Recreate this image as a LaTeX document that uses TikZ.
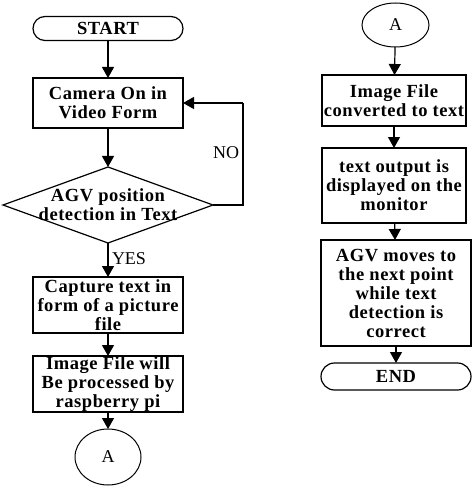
\documentclass[tikz,border=0pt]{standalone}
\usepackage{fontspec}
\setmainfont{Liberation Serif}
\newfontfamily\boxfont[LetterSpace=3]{Liberation Serif}
\usetikzlibrary{shapes.geometric,arrows.meta}
\begin{document}
\begin{tikzpicture}[x=1pt,y=-1pt,
  every node/.style={inner sep=0pt,outer sep=0pt},
  lbl/.style={font=\boxfont\fontsize{18.5}{19}\selectfont\bfseries,align=center},
  plain/.style={font=\fontsize{18}{19}\selectfont},
  procbox/.style={draw,line width=1.2pt,rectangle,lbl,minimum width=150pt},
  termbox/.style={draw,line width=1.2pt,rectangle,rounded corners=12pt,lbl,minimum width=150pt,minimum height=24pt},
  conn/.style={ellipse,draw,line width=1pt,plain,minimum width=66pt},
  arr/.style={line width=1.2pt,-{Triangle[length=11pt,width=12pt]}},
  ln/.style={line width=1.2pt}]
\useasboundingbox (0,0) rectangle (474,487);
% left column
\node[termbox] (start) at (108,28.5) {START};
\node[procbox,minimum height=50pt] (cam) at (108,103) {Camera On in\\Video Form};
\node[diamond,draw,line width=1.2pt,minimum width=210pt,minimum height=76pt] (dec) at (108,205) {};
\node[lbl] (dect) at (108,205) {AGV position\\detection in Text};
\node[procbox,minimum height=56pt] (cap) at (108,305) {Capture text in\\form of a picture\\file};
\node[procbox,minimum height=56pt] (img) at (108,384) {Image File will\\Be processed by\\raspberry pi};
\node[conn,minimum height=56pt] (a1) at (108,457) {A};
\coordinate (lc) at (243,205);
\coordinate (lt) at (243,103);
\node[plain,anchor=center] (no) at (226,153) {NO};
\node[plain,anchor=west] (yes) at (112,259) {YES};
\draw[arr] (start) -- (cam);
\draw[arr] (cam) -- (dec);
\draw[ln] (dec.east) -- (lc) -- (lt);
\draw[arr] (lt) -- (cam.east);
\draw[arr] (dec) -- (cap);
\draw[arr] (cap) -- (img);
\draw[arr] (img) -- (a1);
% right column
\node[conn,minimum height=44pt,minimum width=67pt] (a2) at (395.5,25) {A};
\node[procbox,minimum width=144pt,minimum height=51pt] (conv) at (394,100.5) {Image File\\converted to text};
\node[procbox,minimum width=144pt,minimum height=75pt] (out) at (394,185.5) {text output is\\displayed on the\\monitor};
\node[procbox,minimum height=106pt] (mov) at (396,293) {AGV moves to\\the next point\\while text\\detection is\\correct};
\node[termbox,minimum height=27pt,rounded corners=13.5pt] (end) at (396,376.5) {END};
\draw[arr] (a2) -- (conv);
\draw[arr] (conv) -- (out);
\draw[arr] (out) -- (mov);
\draw[arr] (mov) -- (end);
\end{tikzpicture}
\end{document}
